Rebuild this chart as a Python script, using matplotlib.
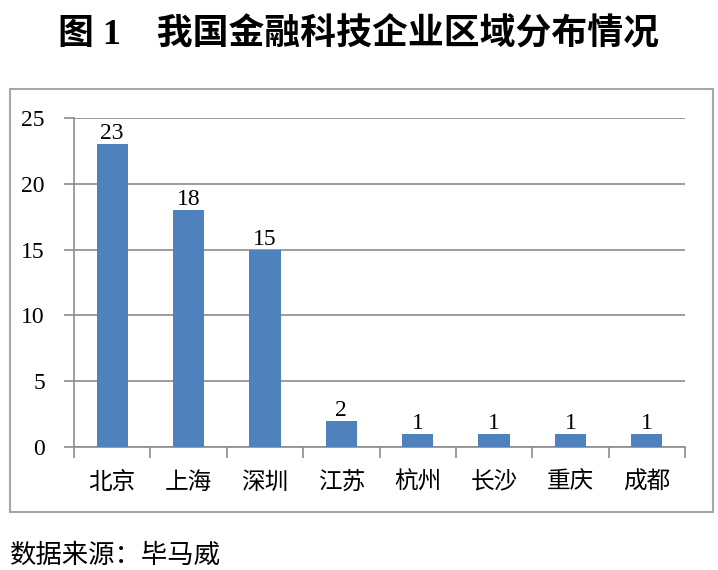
import matplotlib.pyplot as plt
from matplotlib.patches import Rectangle

# data
cities = ['北京', '上海', '深圳', '江苏', '杭州', '长沙', '重庆', '成都']
counts = [23, 18, 15, 2, 1, 1, 1, 1]
y_ticks = [0, 5, 10, 15, 20, 25]

plt.rcParams['font.family'] = ['Liberation Serif', 'Noto Sans CJK SC', 'DejaVu Sans']
cjk = ['Noto Sans CJK SC', 'DejaVu Sans']

fig = plt.figure(figsize=(7.18, 5.70), dpi=100)
ax = fig.add_axes([74 / 718, 1 - 447 / 570, 611 / 718, 329 / 570])

# grey frame around the chart area
fig.patches.append(Rectangle((10 / 718, 1 - 512 / 570), 703 / 718, 423 / 570,
                             transform=fig.transFigure, fill=False,
                             edgecolor='#a6a6a6', linewidth=1.5))

x = range(len(cities))
bars = ax.bar(x, counts, width=0.41, color='#4F81BD', zorder=3)
ax.bar_label(bars, padding=0, fontsize=17)

ax.set_xlim(-0.5, len(cities) - 0.5)
ax.set_ylim(0, 25)
ax.set_yticks(y_ticks)
ax.yaxis.grid(True, color='#8c8c8c', linewidth=1.2, zorder=0)

ax.set_xticks(list(x))
ax.set_xticklabels(cities, family=cjk, fontsize=17)
ax.set_xticks([i - 0.5 for i in range(len(cities) + 1)], minor=True)
ax.tick_params(axis='x', which='major', length=0, pad=17)
ax.tick_params(axis='x', which='minor', length=8, color='#8c8c8c', width=1.2)
ax.tick_params(axis='y', length=7, color='#8c8c8c', width=1.2, labelsize=17, pad=14)

for s in ['top', 'right']:
    ax.spines[s].set_visible(False)
for s in ['left', 'bottom']:
    ax.spines[s].set_color('#8c8c8c')
    ax.spines[s].set_linewidth(1.2)

fig.text(0.5, 1 - 35 / 570, '图 1　我国金融科技企业区域分布情况', ha='center', va='center',
         fontsize=25.8, fontweight='bold')
fig.text(10 / 718, 1 - 555 / 570, '数据来源：毕马威', ha='left', va='center',
         family=cjk, fontsize=19)

fig.savefig('out.png', dpi=100)
